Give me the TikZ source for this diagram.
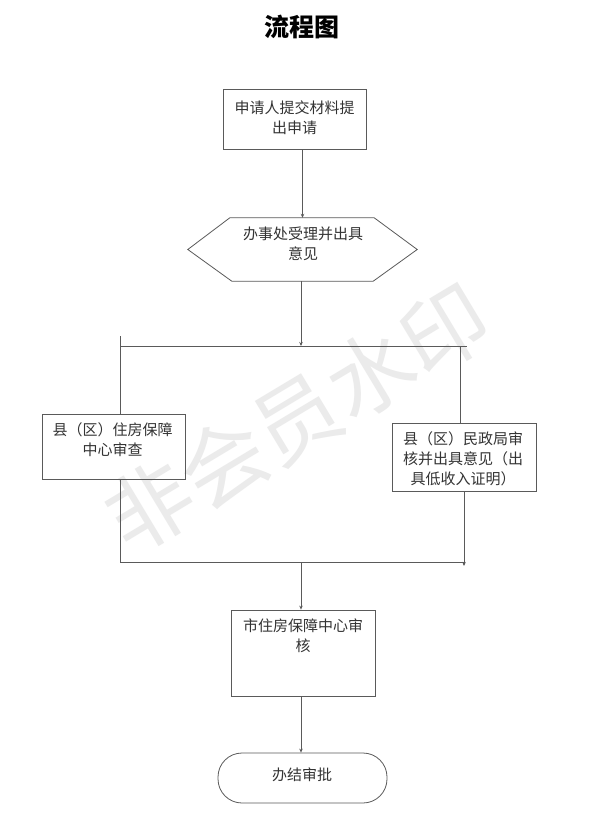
\documentclass[tikz,border=0pt]{standalone}
\usepackage{fontspec}
\newfontfamily\cjk{Noto Sans CJK SC}
\usetikzlibrary{arrows.meta}
\definecolor{ln}{HTML}{5A5A5A}
\definecolor{tx}{HTML}{333333}
\definecolor{wm}{HTML}{EBEBEB}
\tikzset{
  boxst/.style={draw=ln, line width=0.8pt, rectangle, inner sep=0pt},
  txt/.style={font=\cjk\fontsize{15}{20}\selectfont, text=tx, align=center, inner sep=0pt},
  ln/.style={draw=ln, line width=0.8pt},
  arr/.style={ln, -{Stealth[length=4pt,width=3.5pt]}},
}
\begin{document}
\begin{tikzpicture}[x=1pt,y=-1pt]
\useasboundingbox (0,0) rectangle (596,819);
\fill[white] (0,0) rectangle (596,819);
% watermark
\node[font=\cjk\fontsize{86}{86}\selectfont, text=wm, rotate=31, inner sep=0pt] (wmk) at (297,418) {非会员水印};
% title
\node[font=\cjk\bfseries\fontsize{25}{25}\selectfont, text=black, inner sep=0pt] (title) at (302,27) {流程图};
% box 1
\node[boxst, minimum width=143, minimum height=60] (b1) at (294.5,119) {};
\node[txt] (t1) at (294.5,117.5) {申请人提交材料提\\出申请};
% hexagon
\node[minimum width=229, minimum height=63, inner sep=0pt] (hx) at (302.5,249.5) {};
\draw[ln] (hx.west) -- ([xshift=42]hx.north west) -- ([xshift=-43]hx.north east) -- (hx.east) -- ([xshift=-44]hx.south east) -- ([xshift=44]hx.south west) -- cycle;
\node[txt] (t2) at (303,244) {办事处受理并出具\\意见};
% split lines
\coordinate (sp) at (301,346);
\coordinate (tl) at (120,346);
\coordinate (tlt) at (120,336);
\coordinate (tr) at (467,346);
\coordinate (rv) at (460,346);
% left box
\node[boxst, minimum width=143, minimum height=65] (lb) at (113.5,446.5) {};
\node[txt] (t3) at (112.5,440) {县（区）住房保障\\中心审查};
% right box
\node[boxst, minimum width=144, minimum height=68] (rb) at (464,457) {};
\node[txt] (t4) at (463,458.5) {县（区）民政局审\\核并出具意见（出\\具低收入证明）};
% join lines
\coordinate (bl) at (120,562);
\coordinate (br) at (464,562);
\coordinate (brx) at (464,566);
\coordinate (jn) at (301,562);
% box 5
\node[boxst, minimum width=144, minimum height=86] (b5) at (303,653) {};
\node[txt] (t5) at (303,636) {市住房保障中心审\\核};
% terminal
\node[boxst, rounded corners=24pt, minimum width=169, minimum height=50] (tm) at (302.5,778) {};
\node[txt] (t6) at (302,775) {办结审批};
% connectors
\draw[arr] (b1.south -| hx.north) -- (hx.north);
\draw[arr] (hx.south -| sp) -- (sp);
\draw[ln] (tl) -- (tr);
\draw[ln] (tlt) -- (lb.north -| tlt);
\draw[ln] (rv) -- (rb.north -| rv);
\draw[ln] (lb.south -| bl) -- (bl);
\draw[arr] (rb.south -| br) -- ([yshift=-4]br);
\draw[ln] ([yshift=-4]br) -- (brx);
\draw[ln] (bl) -- (br);
\draw[arr] (jn) -- (b5.north -| jn);
\draw[arr] (b5.south -| jn) -- (tm.north -| jn);
\end{tikzpicture}
\end{document}
